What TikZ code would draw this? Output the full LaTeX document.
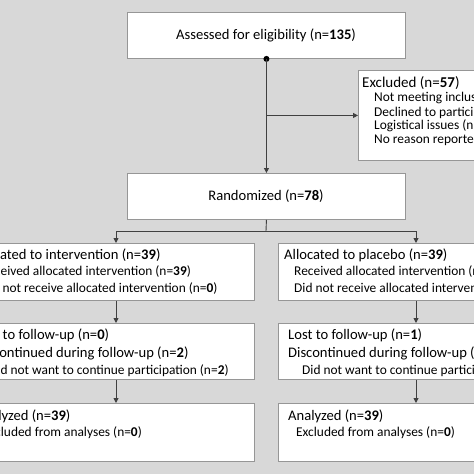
\documentclass[tikz,border=0pt]{standalone}
\usepackage{fontspec}
\setmainfont{Carlito}
\usetikzlibrary{arrows.meta}
\usetikzlibrary{positioning}

\definecolor{bggray}{RGB}{216,216,216}
\definecolor{boxgray}{RGB}{150,150,150}
\definecolor{linegray}{RGB}{64,64,64}

\tikzset{
  flowbox/.style={draw=boxgray,fill=white,line width=0.9pt,anchor=north west,inner sep=0pt},
  maintext/.style={anchor=west,inner sep=0pt,font=\fontsize{14.6}{16}\selectfont},
  subtext/.style={anchor=west,inner sep=0pt,font=\fontsize{13.4}{15}\selectfont},
  exmain/.style={anchor=west,inner sep=0pt,font=\fontsize{15}{16}\selectfont},
  exsub/.style={anchor=west,inner sep=0pt,font=\fontsize{13.4}{15}\selectfont},
  link/.style={draw=linegray,line width=0.9pt},
  arr/.style={link,-{Triangle[length=5pt,width=5pt]}}
}

\begin{document}
\begin{tikzpicture}[x=1pt,y=-1pt]
\useasboundingbox (0,0) rectangle (474,474);
\clip (0,0) rectangle (474,474);
\fill[bggray] (0,0) rectangle (474,474);

% boxes
\node[flowbox,minimum width=278pt,minimum height=46pt] (assess) at (127,12) {};
\node[flowbox,minimum width=250pt,minimum height=90pt] (excl) at (358,70) {};
\node[flowbox,minimum width=278pt,minimum height=46pt] (rand) at (127,173) {};
\node[flowbox,minimum width=289pt,minimum height=57pt] (allocL) at (-35,243) {};
\node[flowbox,minimum width=289pt,minimum height=57pt] (allocR) at (278,243) {};
\node[flowbox,minimum width=289pt,minimum height=56pt] (followL) at (-35,323) {};
\node[flowbox,minimum width=289pt,minimum height=56pt] (followR) at (278,323) {};
\node[flowbox,minimum width=289pt,minimum height=58pt] (analysL) at (-35,403) {};
\node[flowbox,minimum width=289pt,minimum height=58pt] (analysR) at (278,403) {};

% texts
\node[maintext,anchor=center] (tassess) at (266,35) {Assessed for eligibility (n=\textbf{135})};
\node[maintext,anchor=center] (trand) at (266,196) {Randomized (n=\textbf{78})};

\node[exmain] (tex0) at (362,83) {Excluded (n=\textbf{57})};
\node[exsub] (tex1) at (374,98) {Not meeting inclusion criteria (n=};
\node[exsub] (tex2) at (374,112.5) {Declined to participate (n=};
\node[exsub] (tex3) at (374,126) {Logistical issues (n=};
\node[exsub] (tex4) at (374,139.5) {No reason reported (n=};

\node[maintext] (tal0) at (-29,255) {Allocated to intervention (n=\textbf{39})};
\node[subtext] (tal1) at (-19,272) {Received allocated intervention (n=\textbf{39})};
\node[subtext] (tal2) at (-19,289) {Did not receive allocated intervention (n=\textbf{0})};
\node[maintext] (tar0) at (284,255) {Allocated to placebo (n=\textbf{39})};
\node[subtext] (tar1) at (294,272) {Received allocated intervention (n=\textbf{39})};
\node[subtext] (tar2) at (294,289) {Did not receive allocated intervention (n=\textbf{0})};

\node[maintext] (tfl0) at (-25,335) {Lost to follow-up (n=\textbf{0})};
\node[maintext] (tfl1) at (-25,353) {Discontinued during follow-up (n=\textbf{2})};
\node[subtext] (tfl2) at (-11,371) {Did not want to continue participation (n=\textbf{2})};
\node[maintext] (tfr0) at (288,335) {Lost to follow-up (n=\textbf{1})};
\node[maintext] (tfr1) at (288,353) {Discontinued during follow-up (n=};
\node[subtext] (tfr2) at (302,371) {Did not want to continue participation (n=};

\node[maintext] (tnl0) at (-25,416) {Analyzed (n=\textbf{39})};
\node[subtext] (tnl1) at (-17,433) {Excluded from analyses (n=\textbf{0})};
\node[maintext] (tnr0) at (288,416) {Analyzed (n=\textbf{39})};
\node[subtext] (tnr1) at (296,433) {Excluded from analyses (n=\textbf{0})};

% connectors
\fill[black] (assess.south) circle (3pt);
\draw[arr] (assess.south) -- (rand.north);
\coordinate (exsplit) at (assess.south |- excl.west);
\draw[arr] (exsplit) -- (excl.west);
\coordinate (split) at (266,231);
\coordinate (splitL) at (116,231);
\coordinate (splitR) at (416,231);
\draw[link] (rand.south) -- (split);
\draw[arr] (split) -- (splitL) -- (splitL |- allocL.north);
\draw[arr] (split) -- (splitR) -- (splitR |- allocR.north);
\draw[arr] (splitL |- allocL.south) -- (splitL |- followL.north);
\draw[arr] (splitR |- allocR.south) -- (splitR |- followR.north);
\draw[arr] (splitL |- followL.south) -- (splitL |- analysL.north);
\draw[arr] (splitR |- followR.south) -- (splitR |- analysR.north);

\end{tikzpicture}
\end{document}
